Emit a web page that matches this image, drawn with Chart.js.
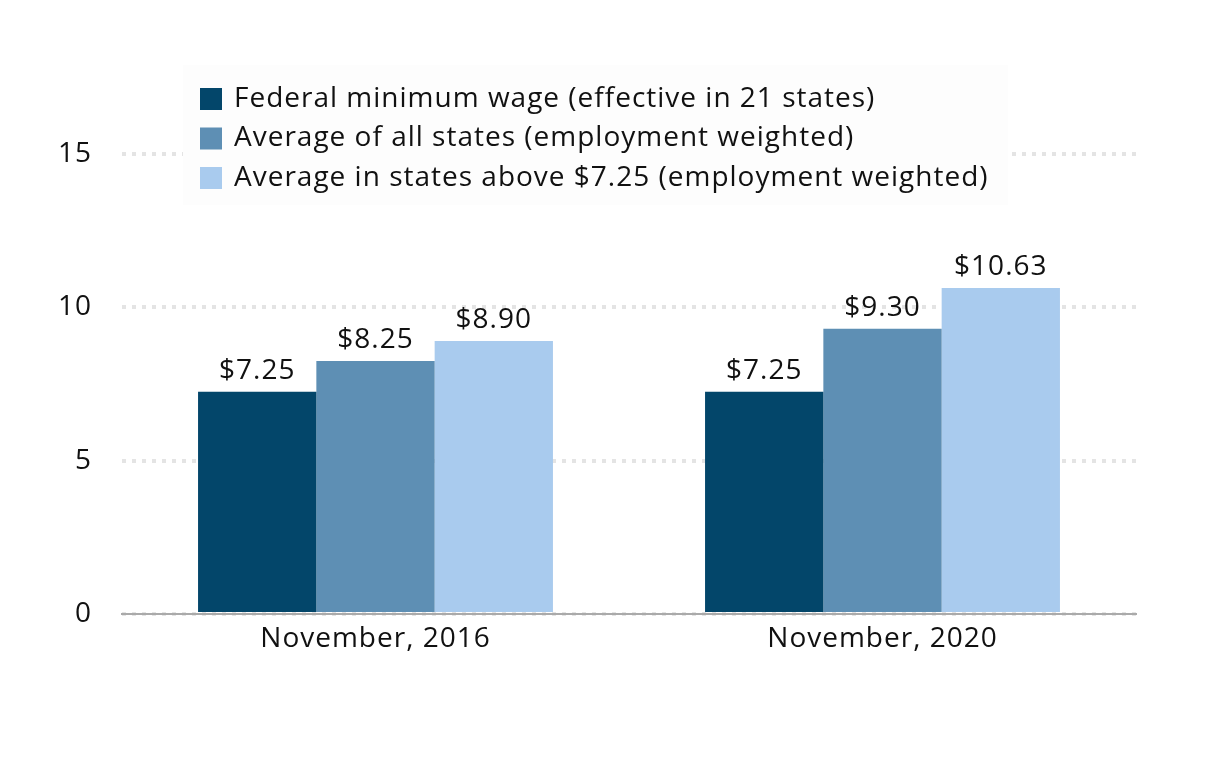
<!DOCTYPE html>
<html>
<head>
<meta charset="utf-8">
<script src="https://cdn.jsdelivr.net/npm/chart.js@4"></script>
<style>
  html, body { margin: 0; padding: 0; background: #fff; }
  #wrap { width: 1216px; height: 761px; }
</style>
</head>
<body>
<div id="wrap"><canvas id="chart"></canvas></div>
<script>
const categories = ["November, 2016", "November, 2020"];
const seriesNames = [
  "Federal minimum wage (effective in 21 states)",
  "Average of all states (employment weighted)",
  "Average in states above $7.25 (employment weighted)"
];
const federalValues = [7.25, 7.25];
const allStatesValues = [8.25, 9.3];
const aboveValues = [8.9, 10.63];
const yTicks = [0, 5, 10, 15];

const colors = ["#03466a", "#5e8fb4", "#a9cbee"];
const FONT = "'Open Sans', sans-serif";

// slightly wider lettering for every text on the canvas
const spacing = {
  id: "spacing",
  beforeDraw(chart) { chart.ctx.letterSpacing = "1px"; }
};

// labels above each bar
const barLabels = {
  id: "barLabels",
  afterDatasetsDraw(chart) {
    const ctx = chart.ctx;
    ctx.save();
    ctx.font = "28px " + FONT;
    ctx.fillStyle = "#111";
    ctx.textAlign = "center";
    ctx.textBaseline = "bottom";
    chart.data.datasets.forEach((ds, i) => {
      chart.getDatasetMeta(i).data.forEach((bar, j) => {
        ctx.fillText("$" + ds.data[j].toFixed(2), bar.x, bar.y - 7);
      });
    });
    ctx.restore();
  }
};

// legend box drawn over the plot
const boxLegend = {
  id: "boxLegend",
  afterDraw(chart) {
    const ctx = chart.ctx;
    ctx.save();
    ctx.fillStyle = "#fdfdfd";
    ctx.fillRect(183, 65, 825, 140);
    ctx.font = "28px " + FONT;
    ctx.textBaseline = "middle";
    chart.data.datasets.forEach((ds, i) => {
      const y = 99 + i * 39.5;
      ctx.fillStyle = ds.backgroundColor;
      ctx.fillRect(200, y - 11, 22, 22);
      ctx.fillStyle = "#111";
      ctx.fillText(ds.label, 234, y);
    });
    ctx.restore();
  }
};

new Chart(document.getElementById("chart"), {
  type: "bar",
  data: {
    labels: categories,
    datasets: [
      { label: seriesNames[0], data: federalValues, backgroundColor: colors[0] },
      { label: seriesNames[1], data: allStatesValues, backgroundColor: colors[1] },
      { label: seriesNames[2], data: aboveValues, backgroundColor: colors[2] }
    ]
  },
  options: {
    responsive: true,
    maintainAspectRatio: false,
    animation: false,
    layout: { padding: { top: 154, right: 80, left: 0, bottom: 0 } },
    datasets: { bar: { categoryPercentage: 0.7, barPercentage: 1.0 } },
    plugins: {
      legend: { display: false },
      tooltip: { enabled: false }
    },
    scales: {
      x: {
        grid: { display: false, drawTicks: false },
        border: { display: true, color: "#aaa", width: 2 },
        ticks: { color: "#111", font: { family: FONT, size: 28 }, padding: 8 },
        afterFit(scale) { scale.height = 147; }
      },
      y: {
        min: 0,
        max: 15,
        afterBuildTicks(scale) { scale.ticks = yTicks.map(v => ({ value: v })); },
        grid: { color: "#e4e4e4", lineWidth: 4, drawTicks: false },
        border: { display: false, dash: [4, 6] },
        ticks: { color: "#111", font: { family: FONT, size: 28 }, padding: 30 },
        afterFit(scale) { scale.width = 122; }
      }
    }
  },
  plugins: [spacing, barLabels, boxLegend]
});
</script>
</body>
</html>
